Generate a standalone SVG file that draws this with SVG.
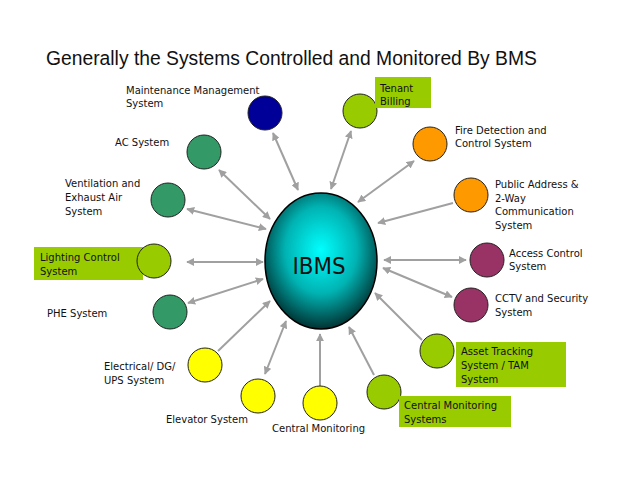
<svg xmlns="http://www.w3.org/2000/svg" width="638" height="493" viewBox="0 0 638 493">
<defs>
<radialGradient id="g" cx="0.5" cy="0.42" r="0.58">
<stop offset="0" stop-color="#00ffff"/>
<stop offset="0.55" stop-color="#00b3b3"/>
<stop offset="1" stop-color="#003333"/>
</radialGradient>
<marker id="a" viewBox="0 0 10 10" refX="9" refY="5" markerWidth="4" markerHeight="4" orient="auto-start-reverse" markerUnits="strokeWidth">
<path d="M0,0 L10,5 L0,10 z" fill="#a0a0a0"/>
</marker>
<style>
.t{font-family:"DejaVu Sans",Verdana,sans-serif;font-size:10px;fill:#111}
.c{stroke:#222;stroke-width:1}
.l{stroke:#a0a0a0;stroke-width:2;fill:none}
.d{marker-start:url(#a);marker-end:url(#a)}
.s{marker-end:url(#a)}
.box{fill:#99cc00}
</style>
</defs>
<rect width="638" height="493" fill="#fff"/>
<text x="46" y="65" font-family="Liberation Sans,Arial,sans-serif" font-size="19.3" fill="#111">Generally the Systems Controlled and Monitored By BMS</text>

<g id="connectors">
<line class="l d" x1="273" y1="133" x2="298" y2="190"/>
<line class="l d" x1="351" y1="131" x2="331" y2="189"/>
<line class="l d" x1="219" y1="170" x2="270" y2="219"/>
<line class="l d" x1="187" y1="209" x2="266" y2="229"/>
<line class="l d" x1="414" y1="161" x2="358" y2="202"/>
<line class="l s" x1="453" y1="203" x2="378" y2="223"/>
<line class="l d" x1="384" y1="260" x2="466" y2="260"/>
<line class="l d" x1="383" y1="268" x2="452" y2="297"/>
<line class="l d" x1="187" y1="262" x2="263" y2="262"/>
<line class="l d" x1="188" y1="303" x2="263" y2="279"/>
<line class="l s" x1="218" y1="351" x2="270" y2="301"/>
<line class="l d" x1="286" y1="321" x2="265" y2="374"/>
<line class="l s" x1="320" y1="386" x2="320" y2="334"/>
<line class="l s" x1="374" y1="375" x2="349" y2="327"/>
<line class="l s" x1="422" y1="340" x2="375" y2="293"/>
</g>

<g id="ibms">
<ellipse cx="321" cy="261" rx="56" ry="68" fill="url(#g)" stroke="#000" stroke-width="1.5"/>
<text x="319" y="274" text-anchor="middle" font-family="DejaVu Sans,sans-serif" font-size="23" fill="#111" textLength="53" lengthAdjust="spacingAndGlyphs">IBMS</text>
</g>

<g id="maintenance">
<circle class="c" cx="265" cy="113" r="17" fill="#000099"/>
<text class="t" x="126" y="94">Maintenance Management</text>
<text class="t" x="126" y="107">System</text>
</g>
<g id="tenant">
<circle class="c" cx="360" cy="111" r="17" fill="#99cc00"/>
<rect class="box" x="375" y="77" width="56" height="31"/>
<text class="t" x="380" y="92">Tenant</text>
<text class="t" x="380" y="105">Billing</text>
</g>
<g id="ac">
<circle class="c" cx="204" cy="152" r="17" fill="#339966"/>
<text class="t" x="115" y="146">AC System</text>
</g>
<g id="fire">
<circle class="c" cx="430" cy="144" r="17" fill="#ff9900"/>
<text class="t" x="455" y="134">Fire Detection and</text>
<text class="t" x="455" y="147">Control System</text>
</g>
<g id="ventilation">
<circle class="c" cx="168" cy="200" r="17" fill="#339966"/>
<text class="t" x="65" y="187">Ventilation and</text>
<text class="t" x="65" y="201">Exhaust Air</text>
<text class="t" x="65" y="215">System</text>
</g>
<g id="public-address">
<circle class="c" cx="471" cy="195" r="17" fill="#ff9900"/>
<text class="t" x="495" y="188">Public Address &amp;</text>
<text class="t" x="495" y="202">2-Way</text>
<text class="t" x="495" y="215">Communication</text>
<text class="t" x="495" y="229">System</text>
</g>
<g id="lighting">
<rect class="box" x="34" y="247" width="109" height="33"/>
<circle class="c" cx="154" cy="261" r="17" fill="#99cc00"/>
<text class="t" x="40" y="261">Lighting Control</text>
<text class="t" x="40" y="275">System</text>
</g>
<g id="access">
<circle class="c" cx="487" cy="260" r="17" fill="#993366"/>
<text class="t" x="509" y="257">Access Control</text>
<text class="t" x="509" y="270">System</text>
</g>
<g id="phe">
<circle class="c" cx="170" cy="312" r="17" fill="#339966"/>
<text class="t" x="47" y="317">PHE System</text>
</g>
<g id="cctv">
<circle class="c" cx="471" cy="305" r="17" fill="#993366"/>
<text class="t" x="495" y="302">CCTV and Security</text>
<text class="t" x="495" y="316">System</text>
</g>
<g id="asset">
<circle class="c" cx="437" cy="351" r="17" fill="#99cc00"/>
<rect class="box" x="456" y="342" width="110" height="45"/>
<text class="t" x="461" y="355">Asset Tracking</text>
<text class="t" x="461" y="369">System / TAM</text>
<text class="t" x="461" y="383">System</text>
</g>
<g id="electrical">
<circle class="c" cx="205" cy="365" r="17" fill="#ffff00"/>
<text class="t" x="104" y="370">Electrical/ DG/</text>
<text class="t" x="104" y="384">UPS  System</text>
</g>
<g id="cms">
<circle class="c" cx="384" cy="392" r="17" fill="#99cc00"/>
<rect class="box" x="399" y="396" width="112" height="31"/>
<text class="t" x="404" y="409">Central Monitoring</text>
<text class="t" x="404" y="423">Systems</text>
</g>
<g id="elevator">
<circle class="c" cx="258" cy="396" r="17" fill="#ffff00"/>
<text class="t" x="166" y="423">Elevator System</text>
</g>
<g id="central">
<circle class="c" cx="320" cy="403" r="17" fill="#ffff00"/>
<text class="t" x="272" y="432">Central Monitoring</text>
</g>
</svg>
